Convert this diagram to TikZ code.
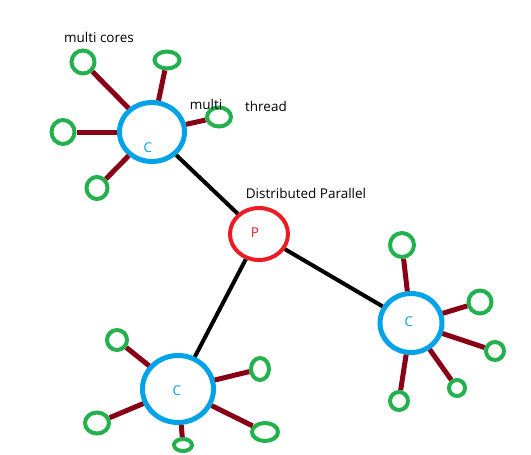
\documentclass[tikz,border=0pt]{standalone}
\usepackage{fontspec}
\setmainfont{Open Sans}
\usetikzlibrary{shapes.geometric}
\begin{document}
\begin{tikzpicture}[x=1pt,y=-1pt]
    \definecolor{cblue}{RGB}{0,162,232}
    \definecolor{pred}{RGB}{237,28,36}
    \definecolor{cgreen}{RGB}{34,177,76}
    \definecolor{spokered}{RGB}{136,0,21}
\useasboundingbox (0,0) rectangle (531,455);
 \tikzstyle{cluster}=[draw=cblue,line width=5pt,shape=ellipse,inner sep=0pt]
 \tikzstyle{core}=[draw=cgreen,line width=4pt,shape=ellipse,inner sep=0pt]
 \tikzstyle{spoke}=[draw=spokered,line width=5pt]
 \tikzstyle{link}=[draw=black,line width=4pt]
 \tikzstyle{tag}=[font=\fontsize{13.5}{15}\selectfont,inner sep=0pt]
% the three machines and the hub
\node [cluster,minimum width=65,minimum height=59] (c1) at (152,132) {};
\node [cluster,minimum width=71,minimum height=67] (c2) at (178,389) {};
\node [cluster,minimum width=62,minimum height=59] (c3) at (411,323) {};
\node [draw=pred,line width=4pt,shape=ellipse,inner sep=0pt,minimum width=58,minimum height=52] (p) at (259,234) {};
\node [tag,text=cblue] (t1) at (148,148) {C};
\node [tag,text=cblue] (t2) at (177,391) {C};
\node [tag,text=cblue] (t3) at (409,322) {C};
\node [tag,text=pred] (tp) at (255,233) {P};
\draw [link] (c1)--(p);
\draw [link] (p)--(c2);
\draw [link] (p)--(c3);
% cores
\foreach \n/\x/\y/\w/\h in {1/83/62/23/23, 2/167/60/25/17, 3/219/117/24/19, 4/63/132/23/24, 5/97/188/21/22} {
    \node [core,minimum width=\w,minimum height=\h] (a\n) at (\x,\y) {};
    \draw [spoke] (a\n)--(c1);
  }
\foreach \n/\x/\y/\w/\h in {1/117/340/20/20, 2/260/369/18/22, 3/97/423/24/21, 4/183/445/18/12, 5/265/432/26/18} {
    \node [core,minimum width=\w,minimum height=\h] (b\n) at (\x,\y) {};
    \draw [spoke] (b\n)--(c2);
  }
\foreach \n/\x/\y/\w/\h in {1/402/245/24/24, 2/480/302/23/23, 3/495/351/18/18, 4/457/388/16/16, 5/399/401/18/18} {
    \node [core,minimum width=\w,minimum height=\h] (d\n) at (\x,\y) {};
    \draw [spoke] (d\n)--(c3);
  }
% labels
\node [tag] (cores) at (99,37) {multi cores};
\node [tag] (multi) at (206,104) {multi};
\node [tag] (thread) at (266,106) {thread};
\node [tag] (dist) at (306,193) {Distributed Parallel};
\end{tikzpicture}
\end{document}
